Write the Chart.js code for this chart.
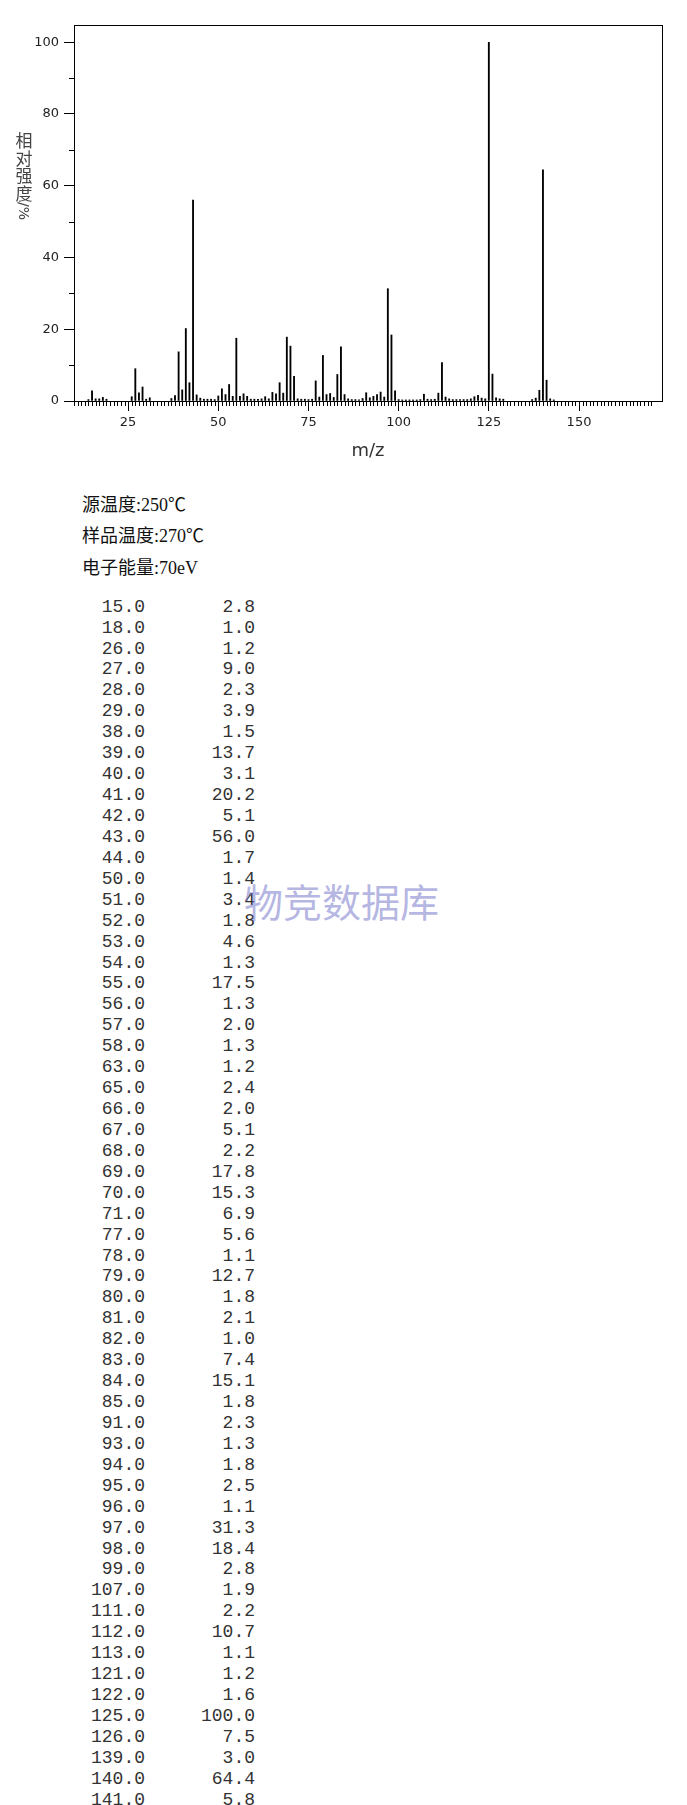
<!DOCTYPE html>
<html><head><meta charset="utf-8">
<script src="https://cdn.jsdelivr.net/npm/chart.js@4.4.0/dist/chart.umd.min.js"></script>
<style>
html,body{margin:0;padding:0;background:#fff;width:687px;height:1805px;overflow:hidden;position:relative}
#wrap{position:absolute;left:0;top:0;width:687px;height:470px}
#c{width:687px;height:470px;display:block}
#ytitle{position:absolute;left:15px;top:131px;width:18px;font-size:17px;font-family:"Noto Sans CJK SC";color:#444;text-align:center}
#ytitle .ch{display:block;height:17.6px;line-height:17.6px}
#ytitle .rot{display:block;transform:rotate(90deg);transform-origin:50% 50%;height:20px;line-height:20px;width:20px;margin-left:-1px;font-family:"DejaVu Sans";font-size:14px}
.info{position:absolute;left:82px;font-size:18px;font-family:"Liberation Serif","Noto Sans CJK SC";color:#111;white-space:nowrap;line-height:20px;height:20px}
.row{position:absolute;left:0;width:300px;font-size:18px;font-family:"Liberation Mono",monospace;color:#333;line-height:20px;height:20px}
.row .a{position:absolute;left:0;width:145px;text-align:right}
.row .b{position:absolute;left:0;width:255px;text-align:right}
#wm{position:absolute;left:244px;top:877px;font-size:39px;font-family:"Noto Sans CJK SC";color:rgba(110,110,200,0.5);line-height:46px;white-space:nowrap}
</style></head>
<body>
<div id="wrap"><canvas id="c" width="687" height="470"></canvas></div>
<div id="ytitle"></div>
<div id="info"></div>
<div id="table"></div>
<div id="wm">物竞数据库</div>
<script>
// ---- data ----
const mzListed = [15,18,26,27,28,29,38,39,40,41,42,43,44,50,51,52,53,54,55,56,57,58,63,65,66,67,68,69,70,71,77,78,79,80,81,82,83,84,85,91,93,94,95,96,97,98,99,107,111,112,113,121,122,125,126,139,140,141];
const intListed = [2.8,1.0,1.2,9.0,2.3,3.9,1.5,13.7,3.1,20.2,5.1,56.0,1.7,1.4,3.4,1.8,4.6,1.3,17.5,1.3,2.0,1.3,1.2,2.4,2.0,5.1,2.2,17.8,15.3,6.9,5.6,1.1,12.7,1.8,2.1,1.0,7.4,15.1,1.8,2.3,1.3,1.8,2.5,1.1,31.3,18.4,2.8,1.9,2.2,10.7,1.1,1.2,1.6,100.0,7.5,3.0,64.4,5.8];
// small peaks visible in the plot but not listed in the table (estimated)
const mzMinor = [14,16,17,19,30,31,37,45,46,47,48,49,59,60,61,62,64,72,73,74,75,76,86,87,88,89,90,92,100,101,102,103,104,105,106,108,109,110,114,115,116,117,118,119,120,123,124,127,128,129,137,138,142,143];
const intMinor = [0.4,0.6,0.6,0.5,0.5,0.9,0.7,0.8,0.5,0.5,0.5,0.4,0.5,0.5,0.5,0.6,0.6,0.6,0.5,0.5,0.4,0.5,0.6,0.4,0.4,0.3,0.7,0.9,0.4,0.3,0.3,0.3,0.3,0.3,0.4,0.5,0.4,0.5,0.6,0.4,0.4,0.4,0.4,0.4,0.6,0.8,0.6,0.9,0.6,0.5,0.4,0.8,0.6,0.3];
const xTickValues = [25,50,75,100,125,150];
const yTickValues = [0,20,40,60,80,100];
const yMinorTicks = [10,30,50,70,90];
const xMinorFrom = 10, xMinorTo = 170;
const xMin = 10, xMax = 173, yMin = 0, yMax = 104.8;
const yTitleChars = ['相','对','强','度'];
const yTitleUnit = '/%';
const infoLines = ['源温度:250℃','样品温度:270℃','电子能量:70eV'];
const xTitle = 'm/z';

// ---- text blocks ----
const yt = document.getElementById('ytitle');
yTitleChars.forEach(c=>{const s=document.createElement('span');s.className='ch';s.textContent=c;yt.appendChild(s);});
const u=document.createElement('span');u.className='rot';u.textContent=yTitleUnit;yt.appendChild(u);

const infoTops = [495, 526, 558];
const infoEl = document.getElementById('info');
infoLines.forEach((t,i)=>{const d=document.createElement('div');d.className='info';d.style.top=infoTops[i]+'px';d.textContent=t;infoEl.appendChild(d);});
const tableEl = document.getElementById('table');
const rowStep = 20.93, rowTop0 = 596.7;
mzListed.forEach((m,i)=>{
  const r=document.createElement('div');r.className='row';r.style.top=(rowTop0+i*rowStep)+'px';
  const a=document.createElement('span');a.className='a';a.textContent=m.toFixed(1);
  const b=document.createElement('span');b.className='b';b.textContent=intListed[i].toFixed(1);
  r.appendChild(a);r.appendChild(b);tableEl.appendChild(r);
});

// ---- chart ----
const points = mzListed.map((m,i)=>({x:m,y:intListed[i]})).concat(mzMinor.map((m,i)=>({x:m,y:intMinor[i]})));
const frame = {
  id:'frame',
  afterDraw(chart){
    const {ctx, chartArea:a, scales:{x,y}} = chart;
    ctx.save();
    ctx.strokeStyle='#000'; ctx.lineWidth=1;
    ctx.strokeRect(Math.round(a.left)+0.5, Math.round(a.top)+0.5, Math.round(a.right-a.left), Math.round(a.bottom-a.top));
    ctx.beginPath();
    const by = Math.round(a.bottom);
    for(let v=xMinorFrom; v<=xMinorTo; v++){
      if(xTickValues.includes(v)) continue;
      const px=Math.round(x.getPixelForValue(v))+0.5;
      ctx.moveTo(px,by); ctx.lineTo(px,by+5);
    }
    const lx = Math.round(a.left);
    for(const v of yMinorTicks){
      const py=Math.round(y.getPixelForValue(v))+0.5;
      ctx.moveTo(lx,py); ctx.lineTo(lx-5,py);
    }
    ctx.stroke();
    ctx.restore();
  }
};
new Chart(document.getElementById('c'), {
  type:'bar',
  data:{datasets:[{data:points, backgroundColor:'#000', borderWidth:0, barThickness:1.2}]},
  options:{
    responsive:false, animation:false, devicePixelRatio:1,
    layout:{padding:{left:0,top:25,right:25,bottom:0}},
    plugins:{legend:{display:false}, tooltip:{enabled:false}},
    scales:{
      x:{type:'linear', min:xMin, max:xMax, offset:false,
        afterBuildTicks:s=>{s.ticks=xTickValues.map(v=>({value:v}));},
        afterFit:s=>{s.height=69;},
        grid:{drawOnChartArea:false, offset:false, tickLength:10, tickColor:'#000', tickWidth:1},
        border:{display:true, color:'#000', width:1},
        ticks:{font:{family:'DejaVu Sans', size:13}, color:'#222', padding:4, maxRotation:0, autoSkip:false},
        title:{display:true, text:xTitle, font:{family:'DejaVu Sans', size:18}, color:'#333', padding:{top:0,bottom:8}}
      },
      y:{min:yMin, max:yMax,
        afterBuildTicks:s=>{s.ticks=yTickValues.map(v=>({value:v}));},
        afterFit:s=>{s.width=74;},
        grid:{drawOnChartArea:false, tickLength:10, tickColor:'#000', tickWidth:1},
        border:{display:true, color:'#000', width:1},
        ticks:{font:{family:'DejaVu Sans', size:13}, color:'#222', padding:5}
      }
    }
  },
  plugins:[frame]
});
</script>
</body></html>
